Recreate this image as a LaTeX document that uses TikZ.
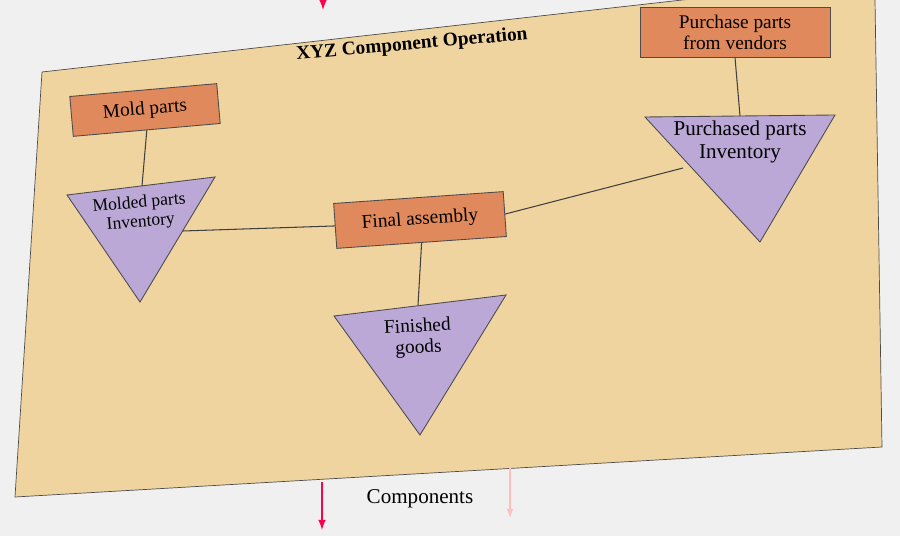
\documentclass[tikz,border=0pt]{standalone}
\usepackage{fontspec}
\setmainfont{Liberation Serif}
\definecolor{panel}{HTML}{F0D4A0}
\definecolor{boxc}{HTML}{E0895C}
\definecolor{tric}{HTML}{BBA8D6}
\begin{document}
\begin{tikzpicture}[x=0.02cm,y=-0.02cm,
  box/.style={draw=black!70,fill=boxc,minimum height=0.8cm,align=center,font=\fontsize{11}{12}\selectfont,line width=0.5pt},
  tri/.style={draw=black!70,fill=tric,line width=0.5pt},
  lbl/.style={align=center,font=\fontsize{11}{12}\selectfont},
  conn/.style={draw=black!75,line width=0.6pt},
  arr/.style={draw=red!70!magenta,line width=1pt,-latex}]
\fill[gray!12] (0,0) rectangle (900,536);
\useasboundingbox (0,0) rectangle (900,536);
\fill[panel] (42,72) -- (700,-2) -- (875,-2) -- (882,447) -- (15,497) -- cycle;
\draw[black!70] (42,72) -- (700,-2) (875,0) -- (882,447) -- (15,497) -- (42,72);
% title
\node[font=\bfseries\fontsize{11}{12}\selectfont,rotate=5] (title) at (412,45) {XYZ Component Operation};
% boxes
\node[box,minimum width=2.95cm,rotate=5] (mold) at (145,110) {Mold parts};
\node[box,minimum width=3.4cm,minimum height=0.9cm,rotate=4] (final) at (420,220) {Final assembly};
\node[box,minimum width=3.8cm,minimum height=1cm,rotate=0] (purch) at (735,32) {Purchase parts\\from vendors};
% triangles
\filldraw[tri] (67,195) -- (215,177) -- (140,302) -- cycle;
\filldraw[tri] (334,316) -- (506,295) -- (420,435) -- cycle;
\filldraw[tri] (645,117) -- (835,115) -- (760,242) -- cycle;
\node[lbl,font=\fontsize{10}{11}\selectfont,rotate=5] (molinv) at (140,213) {Molded parts\\Inventory};
\node[lbl,rotate=3] (fin) at (418,338) {Finished\\goods};
\node[lbl,font=\fontsize{12}{13}\selectfont] (pinv) at (740,142) {Purchased parts\\Inventory};
\coordinate (moltop) at (142,186);
\coordinate (molr) at (183,231);
\coordinate (fintop) at (418,305);
\coordinate (pinvtop) at (740,116);
\coordinate (pinvl) at (683,168);
% connectors
\draw[conn] (mold.south) -- (moltop);
\draw[conn] (molr) -- (final.west);
\draw[conn] (final.south) -- (fintop);
\draw[conn] (final.east) -- (pinvl);
\draw[conn] (purch.south) -- (pinvtop);
% arrows
\coordinate (a1) at (323,-2); \coordinate (a2) at (323,10);
\draw[arr] (a1) -- (a2);
\coordinate (b1) at (322,482); \coordinate (b2) at (322,530);
\draw[arr] (b1) -- (b2);
\coordinate (c1) at (510,468); \coordinate (c2) at (510,518);
\draw[red!25,line width=0.8pt,-latex] (c1) -- (c2);
\node[font=\fontsize{12}{13}\selectfont] (comp) at (420,499) {Components};
\end{tikzpicture}
\end{document}
